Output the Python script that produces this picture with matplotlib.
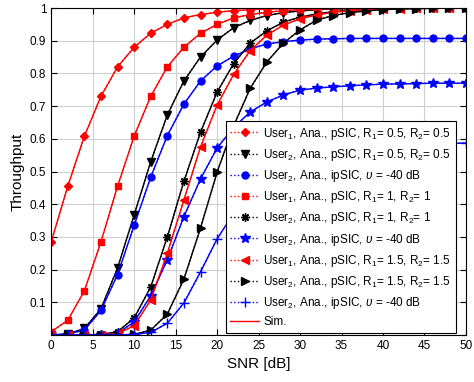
import numpy as np
import matplotlib.pyplot as plt

plt.rcParams['font.family'] = ['Liberation Sans', 'DejaVu Sans']
plt.rcParams['mathtext.fontset'] = 'custom'
plt.rcParams['mathtext.rm'] = 'Liberation Sans'
plt.rcParams['mathtext.it'] = 'Liberation Sans:italic'

# -------------------------
# Data
# -------------------------
snr = np.arange(0, 51, 2)

u1_r05 = [0.285, 0.455, 0.608, 0.73, 0.82, 0.88, 0.923, 0.95, 0.97, 0.98, 0.987, 0.992,
          0.995, 0.997, 0.998, 0.999, 1, 1, 1, 1, 1, 1, 1, 1, 1, 1]
u2_r05 = [0.0, 0.003, 0.02, 0.08, 0.205, 0.367, 0.53, 0.673, 0.777, 0.85, 0.902, 0.94,
          0.962, 0.977, 0.986, 0.991, 0.995, 0.997, 0.998, 0.999, 1, 1, 1, 1, 1, 1]
u2_ip05 = [0.0, 0.003, 0.015, 0.075, 0.185, 0.335, 0.483, 0.61, 0.706, 0.777, 0.823, 0.853,
           0.875, 0.89, 0.897, 0.902, 0.905, 0.906, 0.907, 0.907, 0.907, 0.907, 0.907,
           0.907, 0.907, 0.907]
u1_r1 = [0.01, 0.045, 0.135, 0.285, 0.455, 0.608, 0.73, 0.82, 0.88, 0.923, 0.95, 0.97,
         0.98, 0.987, 0.992, 0.995, 0.997, 0.998, 0.999, 1, 1, 1, 1, 1, 1, 1]
u2_r1 = [0.0, 0.0, 0.0, 0.002, 0.01, 0.052, 0.147, 0.30, 0.47, 0.62, 0.743, 0.83,
         0.893, 0.93, 0.957, 0.972, 0.982, 0.989, 0.993, 0.996, 0.998, 0.999, 1, 1, 1, 1]
u2_ip1 = [0.0, 0.0, 0.0, 0.001, 0.005, 0.04, 0.12, 0.23, 0.362, 0.477, 0.572, 0.635,
          0.682, 0.713, 0.734, 0.749, 0.755, 0.759, 0.762, 0.765, 0.767, 0.768, 0.769,
          0.77, 0.77, 0.77]
u1_r15 = [0.0, 0.0, 0.0, 0.0, 0.005, 0.028, 0.107, 0.25, 0.413, 0.575, 0.703, 0.797,
          0.87, 0.917, 0.948, 0.967, 0.979, 0.987, 0.992, 0.995, 0.997, 0.998, 0.999, 1, 1, 1]
u2_r15 = [0.0, 0.0, 0.0, 0.0, 0.0, 0.002, 0.015, 0.064, 0.171, 0.327, 0.498, 0.64,
          0.755, 0.835, 0.893, 0.933, 0.963, 0.977, 0.986, 0.991, 0.995, 0.997, 0.998,
          0.999, 1, 1]
u2_ip15 = [0.0, 0.0, 0.0, 0.0, 0.0, 0.002, 0.008, 0.036, 0.098, 0.193, 0.294, 0.372,
           0.432, 0.475, 0.505, 0.53, 0.546, 0.557, 0.565, 0.572, 0.577, 0.58, 0.583,
           0.585, 0.586, 0.587]

labels = [
    r'User$_1$, Ana., pSIC, R$_1$= 0.5, R$_2$= 0.5',
    r'User$_2$, Ana., pSIC, R$_1$= 0.5, R$_2$= 0.5',
    r'User$_2$, Ana., ipSIC, $\mathit{\upsilon}$ = -40 dB',
    r'User$_1$, Ana., pSIC, R$_1$= 1, R$_2$= 1',
    r'User$_2$, Ana., pSIC, R$_1$= 1, R$_2$= 1',
    r'User$_2$, Ana., ipSIC, $\mathit{\upsilon}$ = -40 dB',
    r'User$_1$, Ana., pSIC, R$_1$= 1.5, R$_2$= 1.5',
    r'User$_2$, Ana., pSIC, R$_1$= 1.5, R$_2$= 1.5',
    r'User$_2$, Ana., ipSIC, $\mathit{\upsilon}$ = -40 dB',
]
series = [u1_r05, u2_r05, u2_ip05, u1_r1, u2_r1, u2_ip1, u1_r15, u2_r15, u2_ip15]
colors = ['red', 'black', 'blue'] * 3
markers = ['D', 'v', 'o', 's', (8, 2, 0), '*', '<', '>', '+']
msizes = [4.5, 6, 5, 4.5, 6, 7, 6, 6, 7]

# -------------------------
# Plot
# -------------------------
fig = plt.figure(figsize=(4.74, 3.82), dpi=100)
ax = fig.add_axes([0.108, 0.123, 0.875, 0.856])

for y, c, m, ms, lab in zip(series, colors, markers, msizes, labels):
    ax.plot(snr, y, '-', color=c, lw=1.0)
    ax.plot(snr, y, ':', color=c, lw=1.0, marker=m, ms=ms, mew=1.0,
            label=lab, markerfacecolor=c, markeredgecolor=c)
ax.plot([], [], '-', color='red', lw=1.0, label='Sim.')

ax.set_xlim(0, 50)
ax.set_ylim(0, 1)
ax.set_xticks(np.arange(0, 51, 5))
ax.set_yticks(np.arange(0, 1.01, 0.1))
ax.set_yticklabels(['', '0.1', '0.2', '0.3', '0.4', '0.5', '0.6', '0.7', '0.8', '0.9', '1'])
ax.grid(True, color='#d0d0d0', lw=0.8)
ax.tick_params(direction='in', top=True, right=True, labelsize=8.5, length=4)
ax.set_xlabel('SNR [dB]', fontsize=11)
ax.set_ylabel('Throughput', fontsize=11)

leg = ax.legend(loc='lower right', bbox_to_anchor=(0.976, 0.006), borderaxespad=0,
                fontsize=8.5, fancybox=False, framealpha=1, edgecolor='black',
                handlelength=2.4, labelspacing=0.44, handletextpad=0.4,
                borderpad=0.4)
leg.get_frame().set_linewidth(0.8)

fig.savefig('out.png', dpi=100)
